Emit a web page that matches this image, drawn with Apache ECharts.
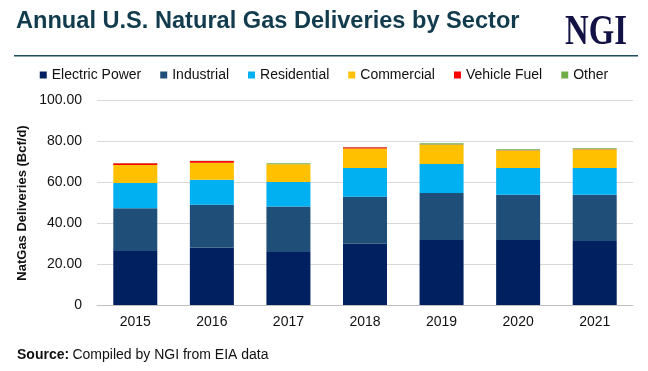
<!DOCTYPE html>
<html>
<head>
<meta charset="utf-8">
<script src="https://cdn.jsdelivr.net/npm/echarts@6/dist/echarts.min.js"></script>
<style>html,body{margin:0;padding:0;background:#fff;}#c{width:648px;height:371px;}</style>
</head>
<body>
<div id="c"></div>
<script>
var categories = ['2015','2016','2017','2018','2019','2020','2021'];
var electricPower = [26.3, 28.0, 25.9, 29.9, 31.7, 31.7, 31.2];
var industrial = [20.9, 20.9, 22.1, 22.9, 22.9, 22.1, 22.6];
var residential = [12.3, 12.2, 12.0, 14.0, 14.2, 13.0, 13.0];
var commercial = [8.8, 8.3, 8.6, 9.6, 9.4, 8.6, 9.1];
var vehicleFuel = [0.8, 0.9, 0.1, 0.6, 0.1, 0.1, 0.1];
var other = [0.2, 0.1, 0.5, 0.1, 0.6, 0.5, 0.5];
var yTicks = [0, 20, 40, 60, 80, 100];

var seriesDefs = [
  ['Electric Power', electricPower, '#002060'],
  ['Industrial', industrial, '#1f4e79'],
  ['Residential', residential, '#00b0f0'],
  ['Commercial', commercial, '#ffc000'],
  ['Vehicle Fuel', vehicleFuel, '#ff0000'],
  ['Other', other, '#70ad47']
];

var chart = echarts.init(document.getElementById('c'));
var F = '"Liberation Sans", Arial, sans-serif';
chart.setOption({
  animation: false,
  color: seriesDefs.map(function(s){return s[2];}),
  legend: {
    top: 63, left: 'center',
    itemWidth: 7, itemHeight: 7, itemGap: 19,
    icon: 'rect',
    textStyle: {fontFamily: F, fontSize: 14, color: '#111'},
    data: seriesDefs.map(function(s){return s[0];})
  },
  grid: {left: 97, right: 15, top: 100, bottom: 66},
  xAxis: {
    type: 'category', data: categories,
    axisLine: {lineStyle: {color: '#bfbfbf'}},
    axisTick: {length: 5, lineStyle: {color: '#bfbfbf'}},
    axisLabel: {fontFamily: F, fontSize: 14, color: '#111', margin: 10}
  },
  yAxis: {
    type: 'value', min: yTicks[0], max: yTicks[yTicks.length-1], interval: 20,
    axisLine: {show: false}, axisTick: {show: false},
    splitLine: {lineStyle: {color: '#d9d9d9'}},
    axisLabel: {fontFamily: F, fontSize: 14, color: '#111', margin: 15,
      formatter: function(v){ return v === 0 ? '0' : v.toFixed(2); }}
  },
  series: seriesDefs.map(function(s){
    return {name: s[0], type: 'bar', stack: 'total', data: s[1], barWidth: 44,
      itemStyle: {color: s[2]}};
  }),
  graphic: [
    {type: 'text', left: 16, top: 9,
      style: {text: 'Annual U.S. Natural Gas Deliveries by Sector', fontFamily: F, fontWeight: 'bold', fontSize: 23.6, fill: '#123c4e'}},
    {type: 'text', x: 565, y: 12, scaleX: 0.78,
      style: {text: 'NGI', fontFamily: '"Liberation Serif", "Times New Roman", serif', fontWeight: 'bold', fontSize: 42, fill: '#121245'}},
    {type: 'rect', shape: {x: 14, y: 55, width: 624, height: 1.5}, style: {fill: '#1f4e5f'}},
    {type: 'text', x: 22, y: 203, rotation: Math.PI/2,
      style: {text: 'NatGas Deliveries (Bcf/d)', fontFamily: F, fontWeight: 'bold', fontSize: 13, fill: '#111', textAlign: 'center', textVerticalAlign: 'middle'}},
    {type: 'text', left: 17, top: 348,
      style: {rich: {b: {fontFamily: F, fontWeight: 'bold', fontSize: 14, fill: '#111'}, r: {fontFamily: F, fontSize: 14, fill: '#111'}},
        text: '{b|Source:} {r|Compiled by NGI from EIA data}'}}
  ]
});
</script>
</body>
</html>
